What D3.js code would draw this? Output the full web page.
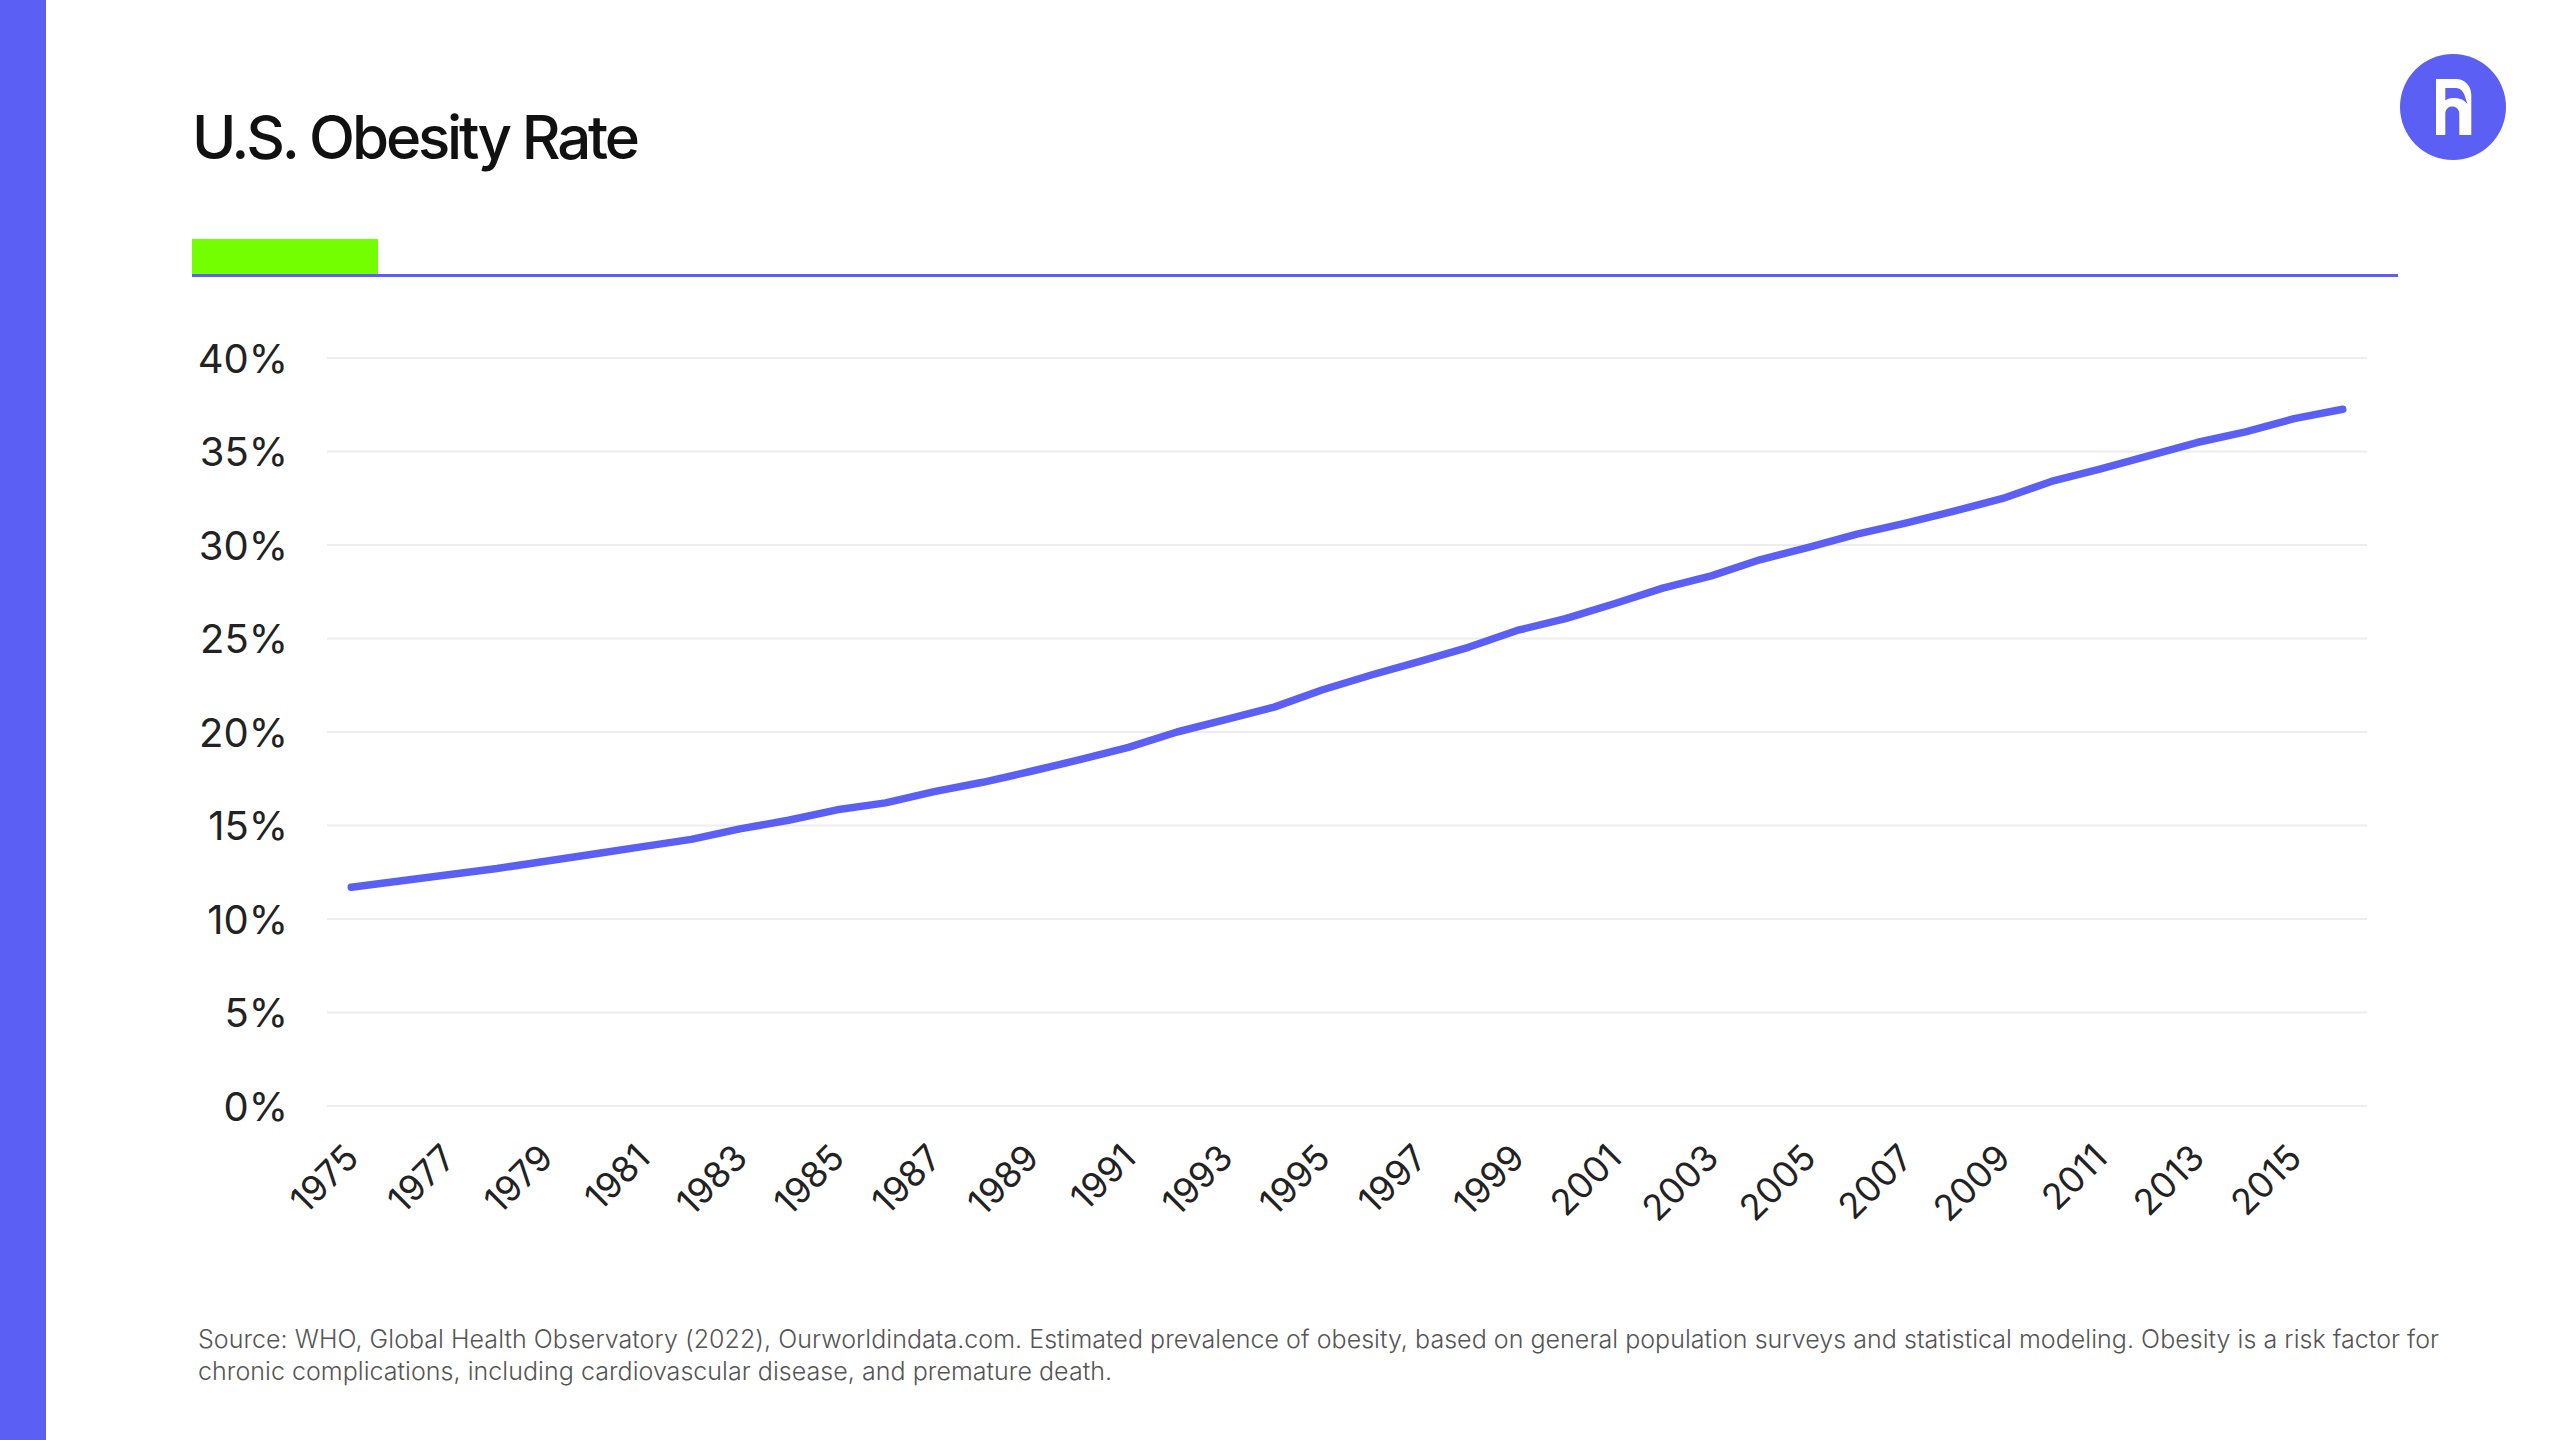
<!DOCTYPE html>
<html>
<head>
<meta charset="utf-8">
<title>U.S. Obesity Rate</title>
<script src="https://cdn.jsdelivr.net/npm/d3@7"></script>
<style>
  html, body { margin: 0; padding: 0; background: #fff; }
  svg { display: block; }
</style>
</head>
<body>
<svg id="chart" width="2560" height="1440"></svg>
<script>
// values (share of adults, %)
const years = d3.range(1975, 2017);
const obesity = [
  11.70, 12.03, 12.37, 12.70, 13.09, 13.48, 13.87, 14.26, 14.82, 15.28,
  15.84, 16.21, 16.81, 17.31, 17.90, 18.52, 19.18, 20.00, 20.66, 21.33,
  22.26, 23.05, 23.78, 24.53, 25.43, 26.06, 26.86, 27.69, 28.35, 29.21,
  29.87, 30.58, 31.17, 31.81, 32.49, 33.40, 34.06, 34.77, 35.48, 36.05,
  36.76, 37.26
];
const yTicks = [0, 5, 10, 15, 20, 25, 30, 35, 40];
const xTickYears = years.filter(d => (d - 1975) % 2 === 0 && d <= 2015);

const title = 'U.S. Obesity Rate';
const noteLines = [
  'Source: WHO, Global Health Observatory (2022), Ourworldindata.com. Estimated prevalence of obesity, based on general population surveys and statistical modeling. Obesity is a risk factor for',
  'chronic complications, including cardiovascular disease, and premature death.'
];

const brand = '#5b5ff4';
const svg = d3.select('#chart');

// squeeze/stretch a text to a wanted width through letter spacing
function fitWidth(sel, target) {
  const node = sel.node();
  const len = node.getComputedTextLength();
  const n = node.textContent.length;
  if (n > 1) sel.attr('letter-spacing', (target - len) / (n - 1));
}

// left band
svg.append('rect')
  .attr('x', 0).attr('y', 0)
  .attr('width', 46).attr('height', 1440)
  .attr('fill', brand);

// title
const titleText = svg.append('text')
  .attr('x', 192)
  .attr('y', 159)
  .attr('font-family', 'Inter, Roboto, sans-serif')
  .attr('font-size', 60)
  .attr('font-weight', 500)
  .attr('fill', '#111')
  .text(title);
fitWidth(titleText, 448);

// header rule with green tab
svg.append('rect')
  .attr('x', 192).attr('y', 239)
  .attr('width', 186).attr('height', 36)
  .attr('fill', '#73ff00');
svg.append('line')
  .attr('x1', 192).attr('x2', 2398)
  .attr('y1', 275.5).attr('y2', 275.5)
  .attr('stroke', brand)
  .attr('stroke-width', 3);

// logo
const logo = svg.append('g')
  .attr('transform', 'translate(2453,107)');
logo.append('circle')
  .attr('r', 53)
  .attr('fill', brand);
logo.append('path')
  .attr('fill', '#fff')
  .attr('d', 'M-17,-28 H3 C12,-28 18.3,-21 18.3,-12 V28 H6.3 V7 C6.3,2 3,-0.5 -0.7,-0.5 C-4.5,-0.5 -7.7,2 -7.7,7 V28 H-17 Z');
logo.append('path')
  .attr('fill', brand)
  .attr('d', 'M-7.7,-19 H3 C7,-19 10,-16 11.5,-12 L14.5,-3 C11,-7.5 6,-9 0,-9 C-3.5,-9 -6,-8 -7.7,-6.5 Z');

// scales
const x = d3.scalePoint()
  .domain(years)
  .range([327, 2367])
  .padding(0.5);

const y = d3.scaleLinear()
  .domain([0, 40])
  .range([1106, 358]);

// grid
svg.append('g')
  .selectAll('line')
  .data(yTicks)
  .enter().append('line')
  .attr('x1', 327).attr('x2', 2367)
  .attr('y1', d => y(d)).attr('y2', d => y(d))
  .attr('stroke', '#ededed')
  .attr('stroke-width', 2);

// y axis
const yAxis = svg.append('g')
  .attr('transform', 'translate(327,0)')
  .call(d3.axisLeft(y).tickValues(yTicks).tickSize(0).tickPadding(39).tickFormat(d => d + '%'));
yAxis.select('.domain').remove();
yAxis.selectAll('text')
  .attr('font-family', 'Inter, Roboto, sans-serif')
  .attr('font-size', 40)
  .attr('fill', '#222')
  .attr('dy', '0.36em');

// x axis
const xAxis = svg.append('g')
  .attr('transform', 'translate(0,1106)')
  .call(d3.axisBottom(x).tickValues(xTickYears).tickSize(0).tickPadding(0));
xAxis.select('.domain').remove();
xAxis.selectAll('text')
  .attr('font-family', 'Inter, Roboto, sans-serif')
  .attr('font-size', 36)
  .attr('fill', '#222')
  .attr('dy', 0)
  .attr('y', 0)
  .attr('text-anchor', 'end')
  .attr('transform', 'translate(9,54) rotate(-45)');

// the line
const line = d3.line()
  .x((d, i) => x(years[i]))
  .y(d => y(d))
  .curve(d3.curveLinear);

svg.append('path')
  .datum(obesity)
  .attr('fill', 'none')
  .attr('stroke', brand)
  .attr('stroke-width', 7.5)
  .attr('stroke-linecap', 'round')
  .attr('stroke-linejoin', 'round')
  .attr('d', line);

// footnote
const note = svg.append('g')
  .attr('font-family', 'Inter, Roboto, sans-serif')
  .attr('font-size', 25)
  .attr('font-weight', 300)
  .attr('fill', '#555');
const note1 = note.append('text').attr('x', 198).attr('y', 1348).text(noteLines[0]);
const note2 = note.append('text').attr('x', 198).attr('y', 1380).text(noteLines[1]);
fitWidth(note1, 2241);
fitWidth(note2, 914);
</script>
</body>
</html>
